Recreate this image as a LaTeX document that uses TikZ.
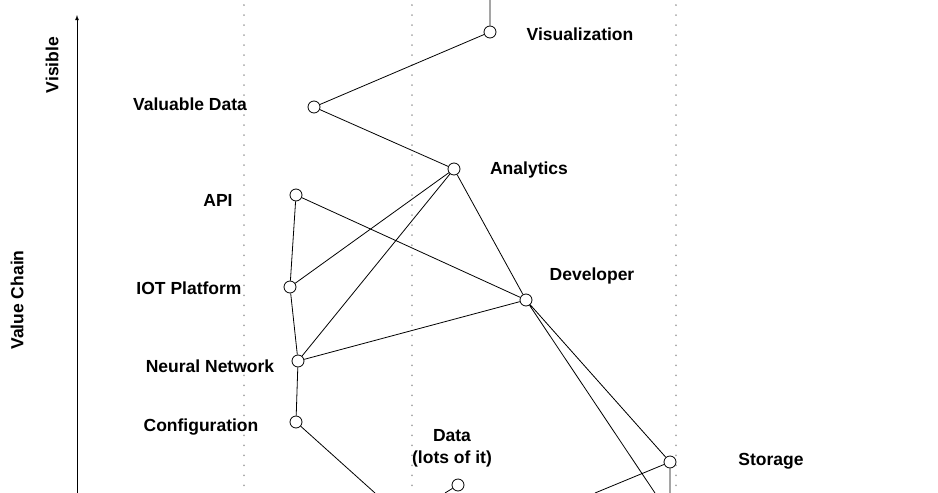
\documentclass[tikz,border=0pt]{standalone}
\usepackage{fontspec}
\setmainfont{Liberation Sans}
\begin{document}
\begin{tikzpicture}[x=1pt,y=-1pt,
  comp/.style={circle,draw,inner sep=0pt,minimum size=12pt,fill=white,line width=0.8pt},
  lbl/.style={font=\bfseries\fontsize{17.5}{21}\selectfont,align=center},
  link/.style={draw,line width=0.8pt},
  grid/.style={draw,gray!70,line width=2pt,dash pattern=on 0.01pt off 10pt,line cap=round}]
\useasboundingbox (0,0) rectangle (938,493);
\foreach \x/\n in {244/a,412/b,676/c}{\coordinate (g\n1) at (\x,5); \coordinate (g\n2) at (\x,493); \draw[grid] (g\n1)--(g\n2);}
\coordinate (ax0) at (77,493); \coordinate (ax1) at (77,15);
\draw[-latex,line width=0.8pt] (ax0)--(ax1);
\node[lbl,rotate=90] (vis) at (52,65) {Visible};
\node[lbl,rotate=90] (vc) at (17,300) {Value Chain};
\coordinate (top) at (490,0);
\coordinate (o1) at (375,493);
\coordinate (o2) at (445,493);
\coordinate (o3) at (595,493);
\coordinate (o4) at (670,493);
\coordinate (o5) at (655,493);
\node[comp] (viz) at (490,32) {};
\node[comp] (vd) at (314,107) {};
\node[comp] (an) at (454,169) {};
\node[comp] (api) at (296,195) {};
\node[comp] (iot) at (290,287) {};
\node[comp] (dev) at (526,300) {};
\node[comp] (nn) at (298,361) {};
\node[comp] (cfg) at (296,422) {};
\node[comp] (data) at (458,485) {};
\node[comp] (st) at (670,462) {};
\node[lbl] at (580,34) {Visualization};
\node[lbl] at (190,104) {Valuable Data};
\node[lbl] at (529,170) {Analytics};
\node[lbl] at (218,200) {API};
\node[lbl] at (189,288) {IOT Platform};
\node[lbl] at (592,276) {Developer};
\node[lbl] at (210,366) {Neural Network};
\node[lbl] at (201,427) {Configuration};
\node[lbl,font=\bfseries\fontsize{17.5}{22}\selectfont] at (452,448) {Data\\(lots of it)};
\node[lbl] at (771,461) {Storage};
\path[link] (top)--(viz) (viz)--(vd) (vd)--(an) (an)--(iot) (an)--(nn) (an)--(dev)
  (api)--(iot) (api)--(dev) (iot)--(nn) (nn)--(dev) (nn)--(cfg) (cfg)--(o1)
  (dev)--(st) (dev)--(o5) (st)--(o3) (st)--(o4) (data)--(o2);
\end{tikzpicture}
\end{document}
